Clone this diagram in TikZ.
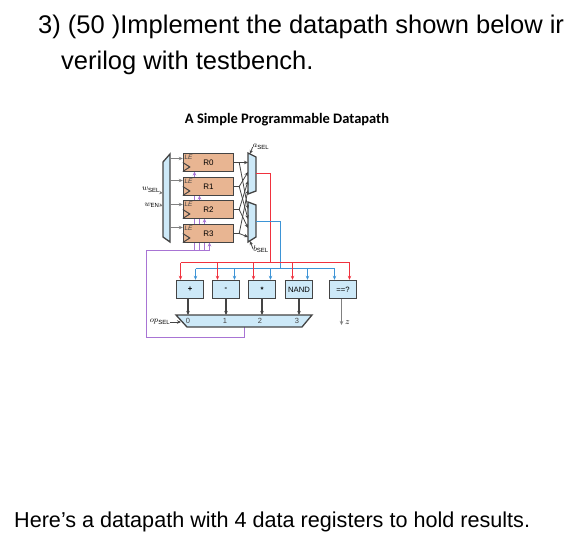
\documentclass[tikz,border=0pt]{standalone}
\usepackage{fontspec}
\setmainfont{Liberation Sans}
\newfontfamily\titlefont{Carlito}
\usepackage{xcolor}
\usetikzlibrary{arrows.meta,positioning}
\definecolor{regfill}{HTML}{E8B592}
\definecolor{muxfill}{HTML}{CDE9F8}
\definecolor{edgegray}{HTML}{444444}
\definecolor{wirered}{HTML}{F0323E}
\definecolor{wireblue}{HTML}{3D94D6}
\definecolor{wirepurple}{HTML}{A874D4}
\tikzset{
  regbox/.style={draw=edgegray,line width=1.4pt,fill=regfill,minimum width=50pt,minimum height=18pt,inner sep=0pt,font=\fontsize{8}{9}\selectfont},
  alubox/.style={draw=edgegray,line width=1.4pt,fill=muxfill,minimum width=27pt,minimum height=18pt,inner sep=0pt,font=\fontsize{7.7}{9}\selectfont},
  muxshape/.style={draw=edgegray,line width=1.3pt,fill=muxfill},
  lelabel/.style={font=\fontsize{6.5}{7}\selectfont\itshape,inner sep=0pt,text=edgegray},
  siglabel/.style={font=\fontsize{8}{9}\selectfont,inner sep=0pt,text=black},
  numlabel/.style={font=\fontsize{7.5}{8}\selectfont,inner sep=0pt,text=edgegray},
  bigtext/.style={font=\fontsize{25.5}{28}\selectfont,inner sep=0pt,anchor=base west},
  clkmark/.style={draw=edgegray,line width=1pt},
  thinwire/.style={draw=gray,line width=.8pt,->},
  datawire/.style={draw=edgegray,line width=.8pt},
  redwire/.style={draw=wirered,line width=1.6pt},
  bluewire/.style={draw=wireblue,line width=1.6pt},
  purplewire/.style={draw=wirepurple,line width=1.4pt},
}
\begin{document}
\begin{tikzpicture}[x=1pt,y=-1pt,>={Stealth[length=4pt,width=3.5pt]}]
\useasboundingbox (0,0) rectangle (564,543);
% question text
\node[bigtext] (qone) at (38,34) {3) (50 )Implement the datapath shown below ir};
\node[bigtext] (qtwo) at (61,70) {verilog with testbench.};
\node[bigtext,font=\fontsize{21.6}{24}\selectfont] (note) at (14,527) {Here’s a datapath with 4 data registers to hold results.};
\node[font=\titlefont\bfseries\fontsize{14.5}{16}\selectfont,inner sep=0pt] (title) at (287,120) {A Simple Programmable Datapath};
% opcode lines, behind the registers
\coordinate (opa) at (194.5,250.5);
\coordinate (opb) at (199.5,250.5);
\coordinate (opc) at (204.5,250.5);
\coordinate (opd) at (209.5,250.5);
\coordinate (opleft) at (146.5,250.5);
\coordinate (opfoot) at (244.5,337.5);
\coordinate (opjoin) at (244.5,327);
\coordinate (r0pin) at (194.5,171.5);
\coordinate (r1pin) at (199.5,195.5);
\coordinate (r2pin) at (204.5,218.5);
\coordinate (r3pin) at (209.5,242.5);
\draw[purplewire,->] (opa) -- (r0pin);
\draw[purplewire,->] (opb) -- (r1pin);
\draw[purplewire,->] (opc) -- (r2pin);
\draw[purplewire] (opleft) -- (opd);
% registers
\node[regbox] (r0) at (208.5,162.5) {R0};
\node[regbox] (r1) at (208.5,186.5) {R1};
\node[regbox] (r2) at (208.5,209.5) {R2};
\node[regbox] (r3) at (208.5,233.5) {R3};
\draw[purplewire,->] (opd) -- (r3pin);
\draw[clkmark] (r0.west) -- ++(7,4.5) -- ++(-7,4.5);
\draw[clkmark] (r1.west) -- ++(7,4.5) -- ++(-7,4.5);
\draw[clkmark] (r2.west) -- ++(7,4.5) -- ++(-7,4.5);
\draw[clkmark] (r3.west) -- ++(7,4.5) -- ++(-7,4.5);
\node[lelabel] (le0) at (188.5,157.5) {LE};
\node[lelabel] (le1) at (188.5,181.5) {LE};
\node[lelabel] (le2) at (188.5,204.5) {LE};
\node[lelabel] (le3) at (188.5,228.5) {LE};
% select muxes
\draw[muxshape] (163,162) -- (170,154) -- (170,242) -- (163,237) -- cycle;
\draw[muxshape] (248,153) -- (256,157) -- (256,191) -- (248,194) -- cycle;
\draw[muxshape] (248,202) -- (256,205) -- (256,237) -- (248,242) -- cycle;
\coordinate (wout0) at (170,158.5);
\coordinate (wout1) at (170,180.5);
\coordinate (wout2) at (170,204.5);
\coordinate (wout3) at (170,227.5);
\draw[thinwire] (wout0) -- (wout0 -| r0.west);
\draw[thinwire] (wout1) -- (wout1 -| r1.west);
\draw[thinwire] (wout2) -- (wout2 -| r2.west);
\draw[thinwire] (wout3) -- (wout3 -| r3.west);
% crossbar into the two muxes
\coordinate (ain0) at (248,162.5);
\coordinate (ain1) at (248,172);
\coordinate (ain2) at (248,181);
\coordinate (ain3) at (248,190);
\coordinate (bin0) at (248,209);
\coordinate (bin1) at (248,219);
\coordinate (bin2) at (248,228);
\coordinate (bin3) at (248,237);
\draw[datawire,->] (r0.east) -- ++(5,0) -- (ain0);
\draw[datawire,->] (r0.east) -- ++(5,0) -- (bin0);
\draw[datawire,->] (r1.east) -- ++(5,0) -- (ain1);
\draw[datawire,->] (r1.east) -- ++(5,0) -- (bin1);
\draw[datawire,->] (r2.east) -- ++(5,0) -- (ain2);
\draw[datawire,->] (r2.east) -- ++(5,0) -- (bin2);
\draw[datawire,->] (r3.east) -- ++(5,0) -- (ain3);
\draw[datawire,->] (r3.east) -- ++(5,0) -- (bin3);
% select labels
\node[siglabel] (wsel) at (151,190) {$w_{\mathrm{SEL}}$};
\node[siglabel] (wen) at (152,205) {$w_{\mathrm{EN}}$};
\coordinate (wselin) at (163,193);
\coordinate (wenin) at (163,206);
\draw[thinwire] (wsel.south east) -- (wselin);
\draw[thinwire] (wen.east) -- (wenin);
\node[siglabel] (asel) at (261,147) {$a_{\mathrm{SEL}}$};
\node[siglabel] (bsel) at (261,249) {$b_{\mathrm{SEL}}$};
\coordinate (atop) at (250,154);
\coordinate (bfoot) at (250,241);
\draw[datawire,->] (asel.west) -- (atop);
\draw[datawire,->] (bsel.west) -- (bfoot);
% ALU row
\node[alubox] (add) at (190,289.5) {\textbf{+}};
\node[alubox] (sub) at (226,289.5) {\textbf{-}};
\node[alubox] (mul) at (262,289.5) {\textbf{*}};
\node[alubox] (nand) at (299,289.5) {NAND};
\node[alubox] (cmp) at (343,289.5) {==?};
% buses
\coordinate (aout) at (256,173.5);
\coordinate (bout) at (256,221.5);
\coordinate (redjoin) at (270.5,262.5);
\coordinate (bluejoin) at (280.5,268.5);
\draw[redwire] (aout) -| (redjoin);
\draw[bluewire] (bout) -| (bluejoin);
\coordinate (reda) at (180.5,262.5);
\coordinate (redb) at (217.5,262.5);
\coordinate (redc) at (253.5,262.5);
\coordinate (redd) at (292.5,262.5);
\coordinate (rede) at (349.5,262.5);
\coordinate (bluea) at (195.5,268.5);
\coordinate (blueb) at (234.5,268.5);
\coordinate (bluec) at (270.5,268.5);
\coordinate (blued) at (307.5,268.5);
\coordinate (bluee) at (334.5,268.5);
\draw[redwire] (reda) -- (rede);
\draw[bluewire] (bluea) -- (bluee);
\draw[redwire,->] (reda) -- (reda |- add.north);
\draw[redwire,->] (redb) -- (redb |- sub.north);
\draw[redwire,->] (redc) -- (redc |- mul.north);
\draw[redwire,->] (redd) -- (redd |- nand.north);
\draw[redwire,->] (rede) -- (rede |- cmp.north);
\draw[bluewire,->] (bluea) -- (bluea |- add.north);
\draw[bluewire,->] (blueb) -- (blueb |- sub.north);
\draw[bluewire,->] (bluec) -- (bluec |- mul.north);
\draw[bluewire,->] (blued) -- (blued |- nand.north);
\draw[bluewire,->] (bluee) -- (bluee |- cmp.north);
% output mux
\draw[purplewire] (opjoin) -- (opfoot) -| (opleft) -- (opa);
\draw[muxshape] (176,315) -- (312,315) -- (302,327) -- (187,327) -- cycle;
\node[numlabel] (sel0) at (188,321) {0};
\node[numlabel] (sel1) at (225,321) {1};
\node[numlabel] (sel2) at (260,321) {2};
\node[numlabel] (sel3) at (297,321) {3};
\coordinate (muxtop) at (188,315);
\draw[datawire,line width=1.3pt,->] (add.south -| sel0.north) -- (sel0.north |- muxtop);
\draw[datawire,line width=1.3pt,->] (sub.south) -- (sub.south |- muxtop);
\draw[datawire,line width=1.3pt,->] (mul.south) -- (mul.south |- muxtop);
\draw[datawire,line width=1.3pt,->] (nand.south) -- (nand.south |- muxtop);
\node[siglabel] (opsel) at (160,322) {$op_{\mathrm{SEL}}$};
\coordinate (opin) at (181,322);
\draw[datawire,line width=1pt,->] (opsel.east) -- (opin);
\coordinate (zdot) at (341.5,325);
\node[siglabel,font=\fontsize{9}{10}\selectfont] (zout) at (347.5,323) {$z$};
\draw[thinwire] (zdot |- cmp.south) -- (zdot);
\end{tikzpicture}
\end{document}
